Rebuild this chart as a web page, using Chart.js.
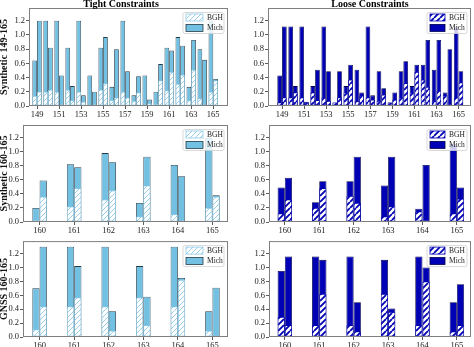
<!DOCTYPE html>
<html>
<head>
<meta charset="utf-8">
<title>BGH vs Mich</title>
<script src="https://cdn.jsdelivr.net/npm/chart.js"></script>
<style>
  body { margin: 0; background: #fff; }
  #wrap { position: relative; width: 474px; height: 347px; overflow: hidden; }
  canvas { position: absolute; }
</style>
</head>
<body>
<div id="wrap">
  <canvas id="tl" width="236" height="118" style="left:0;top:0"></canvas>
  <canvas id="tr" width="238" height="118" style="left:236px;top:0"></canvas>
  <canvas id="ml" width="236" height="117" style="left:0;top:118px"></canvas>
  <canvas id="mr" width="238" height="117" style="left:236px;top:118px"></canvas>
  <canvas id="bl" width="236" height="112" style="left:0;top:235px"></canvas>
  <canvas id="br" width="238" height="112" style="left:236px;top:235px"></canvas>
</div>

<script>
// days on the x axis
var daysAll = [149, 150, 151, 152, 153, 154, 155, 156, 157, 158, 159, 160, 161, 162, 163, 164, 165];
var daysLate = [160, 161, 162, 163, 164, 165];
var xTicksAll = [149, 151, 153, 155, 157, 159, 161, 163, 165];
var xTicksLate = [160, 161, 162, 163, 164, 165];
var yTickValues = [0, 0.2, 0.4, 0.6, 0.8, 1.0, 1.2];
var yMax = 1.38;

// every entry is [first bar, second bar] of that day
var tightSynAllMich = [[0.64, 1.20], [1.20, 0.82], [1.20, 0.43], [0.82, 0.28], [1.20, 0.15], [0.43, 0.20],
  [0.82, 0.97], [0.27, 0.80], [1.20, 0.49], [0.15, 0.42], [0.43, 0.09], [0.20, 0.59], [0.82, 0.78],
  [0.97, 0.85], [0.27, 0.93], [0.80, 0.65], [1.20, 0.38]];
var tightSynAllBgh = [[0.14, 0.20], [0.20, 0.23], [0.20, 0.01], [0.23, 0.08], [0.20, 0.06], [0.01, 0.02],
  [0.23, 0.32], [0.08, 0.12], [0.20, 0.12], [0.07, 0.19], [0.01, 0.04], [0.03, 0.36], [0.22, 0.48],
  [0.31, 0.44], [0.08, 0.51], [0.11, 0.00], [0.20, 0.36]];

var looseSynAllMich = [[0.43, 1.12], [1.12, 0.28], [1.12, 0.06], [0.28, 0.51], [1.12, 0.49], [0.05, 0.49],
  [0.28, 0.58], [0.51, 0.19], [1.12, 0.15], [0.49, 0.25], [0.05, 0.19], [0.49, 0.63], [0.28, 0.58],
  [0.58, 0.93], [0.51, 0.93], [0.19, 0.80], [1.12, 0.49]];
var looseSynAllBgh = [[0.05, 0.12], [0.12, 0.19], [0.12, 0.05], [0.19, 0.08], [0.12, 0.07], [0.05, 0.12],
  [0.19, 0.37], [0.07, 0.15], [0.12, 0.09], [0.07, 0.16], [0.05, 0.09], [0.12, 0.32], [0.19, 0.48],
  [0.37, 0.27], [0.07, 0.22], [0.15, 0.00], [0.12, 0.33]];

var tightSynLateMich = [[0.20, 0.59], [0.82, 0.78], [0.98, 0.85], [0.27, 0.93], [0.81, 0.65], [1.20, 0.38]];
var tightSynLateBgh = [[0.03, 0.36], [0.22, 0.48], [0.32, 0.45], [0.08, 0.52], [0.11, 0.00], [0.20, 0.36]];
var looseSynLateMich = [[0.49, 0.63], [0.28, 0.58], [0.58, 0.93], [0.52, 0.93], [0.19, 0.81], [1.11, 0.49]];
var looseSynLateBgh = [[0.12, 0.32], [0.20, 0.48], [0.37, 0.27], [0.08, 0.22], [0.15, 0.00], [0.12, 0.33]];

var tightGnssMich = [[0.70, 1.30], [1.30, 1.02], [1.30, 0.37], [1.02, 0.58], [1.30, 0.85], [0.37, 0.71]];
var tightGnssBgh = [[0.11, 0.44], [0.44, 0.57], [0.44, 0.09], [0.57, 0.17], [0.44, 0.82], [0.09, 0.01]];
var looseGnssMich = [[0.95, 1.16], [1.16, 1.11], [1.16, 0.50], [1.11, 0.41], [1.16, 1.00], [0.50, 0.76]];
var looseGnssBgh = [[0.29, 0.17], [0.17, 0.62], [0.17, 0.08], [0.62, 0.36], [0.17, 0.80], [0.08, 0.17]];

var serif = "'Liberation Serif', 'DejaVu Serif', serif";

// diagonal hatch like matplotlib '///'
function hatch(line, width, step) {
  var c = document.createElement('canvas');
  c.width = step; c.height = step;
  var g = c.getContext('2d');
  g.fillStyle = '#fff';
  g.fillRect(0, 0, step, step);
  g.strokeStyle = line;
  g.lineWidth = width;
  g.beginPath();
  [-step, 0, step].forEach(function (o) { g.moveTo(o, step); g.lineTo(o + step, 0); });
  g.stroke();
  return g.createPattern(c, 'repeat');
}

var tightStyle = { fill: '#72c1e3', edge: '#263b47', hatch: hatch('#8ecae6', 0.9, 5), hatchEdge: '#8ecae6' };
var looseStyle = { fill: '#0000b4', edge: '#00004a', hatch: hatch('#0000b4', 1.8, 6), hatchEdge: '#0000b4' };

function makeSets(days, mich, bgh, st, cp) {
  var sets = [];
  ['a', 'b'].forEach(function (stack, k) {
    sets.push({ label: 'BGH', stack: stack, order: 1, categoryPercentage: cp, barPercentage: 1,
      data: days.map(function (d, i) { return { x: d, y: bgh[i][k] }; }),
      backgroundColor: st.hatch, borderColor: st.hatchEdge, borderWidth: 0.8, borderSkipped: false });
    sets.push({ label: 'Mich', stack: stack, order: 2, categoryPercentage: cp, barPercentage: 1,
      data: days.map(function (d, i) { return { x: d, y: mich[i][k] }; }),
      backgroundColor: st.fill, borderColor: st.edge, borderWidth: 0.8, borderSkipped: false });
  });
  return sets;
}

// axes frame, legend box and column title
var frameAndLegend = {
  id: 'frameAndLegend',
  afterDraw: function (chart, args, o) {
    var ctx = chart.ctx, a = chart.chartArea;
    ctx.save();
    ctx.strokeStyle = '#7f7f7f';
    ctx.lineWidth = 1;
    ctx.strokeRect(a.left + 0.5, a.top + 0.5, a.right - a.left - 1, a.bottom - a.top - 1);

    var entries = [];
    chart.data.datasets.forEach(function (d) {
      if (!entries.some(function (e) { return e.label === d.label; })) entries.push(d);
    });
    var w = o.boxWidth, h = 21;
    var x = a.right - 4 - w, y = a.top + 4.5;
    ctx.fillStyle = 'rgba(255,255,255,0.8)';
    ctx.strokeStyle = '#cfcfcf';
    ctx.lineWidth = 0.8;
    ctx.beginPath();
    ctx.roundRect(x, y, w, h, 2);
    ctx.fill();
    ctx.stroke();
    ctx.font = '7.5px ' + serif;
    ctx.textBaseline = 'middle';
    entries.forEach(function (d, i) {
      var cy = y + 5 + i * 10.4;
      ctx.fillStyle = d.backgroundColor;
      ctx.fillRect(x + 3, cy - 3.5, o.patch, 7);
      ctx.strokeStyle = d.borderColor;
      ctx.lineWidth = 0.8;
      ctx.strokeRect(x + 3, cy - 3.5, o.patch, 7);
      ctx.fillStyle = '#222';
      ctx.fillText(d.label, x + 7 + o.patch, cy + 0.5);
    });

    if (o.title) {
      ctx.font = 'bold 10px ' + serif;
      ctx.textAlign = 'center';
      ctx.textBaseline = 'alphabetic';
      ctx.fillStyle = '#000';
      ctx.fillText(o.title, o.titleX, 7);
    }
    ctx.restore();
  }
};

function panel(id, o) {
  var tickGrid = { display: true, drawOnChartArea: false, drawTicks: true, tickLength: 3,
    color: '#333', lineWidth: 0.8, offset: false };
  new Chart(document.getElementById(id), {
    type: 'bar',
    data: { datasets: makeSets(o.days, o.mich, o.bgh, o.style, o.cp) },
    options: {
      responsive: false,
      animation: false,
      layout: { padding: { top: o.padTop, right: o.padRight, left: 0, bottom: 0 } },
      plugins: {
        legend: { display: false },
        tooltip: { enabled: false },
        frameAndLegend: { boxWidth: o.boxWidth, patch: o.patch, title: o.title, titleX: o.titleX }
      },
      scales: {
        x: {
          type: 'linear', stacked: true, offset: false, min: o.xMin, max: o.xMax,
          afterBuildTicks: function (s) { s.ticks = o.ticks.map(function (v) { return { value: v }; }); },
          afterFit: function (s) { s.height = o.xH; },
          grid: tickGrid,
          border: { display: false },
          ticks: { font: { family: serif, size: 8.5 }, color: '#222', padding: 1, maxRotation: 0,
            autoSkip: false, callback: function (v) { return String(v); } }
        },
        y: {
          stacked: false, min: 0, max: yMax,
          afterBuildTicks: function (s) { s.ticks = yTickValues.map(function (v) { return { value: v }; }); },
          afterFit: function (s) { s.width = o.yW; },
          grid: tickGrid,
          border: { display: false },
          ticks: { font: { family: serif, size: 8.5 }, color: '#222', padding: 1,
            callback: function (v) { return Number(v).toFixed(1); } },
          title: { display: !!o.rowLabel, text: o.rowLabel || '', color: '#111',
            font: { family: serif, size: 10, weight: 'bold', lineHeight: 0.9 },
            padding: { top: 0, bottom: 0 } }
        }
      }
    },
    plugins: [frameAndLegend]
  });
}

panel('tl', { days: daysAll, ticks: xTicksAll, mich: tightSynAllMich, bgh: tightSynAllBgh, style: tightStyle,
  cp: 0.85, xMin: 148.27, xMax: 166.34, yW: 29, padTop: 8, padRight: 8, xH: 12,
  rowLabel: 'Synthetic 149-165', title: 'Tight Constraints', titleX: 121, boxWidth: 41, patch: 17 });
panel('tr', { days: daysAll, ticks: xTicksAll, mich: looseSynAllMich, bgh: looseSynAllBgh, style: looseStyle,
  cp: 0.85, xMin: 147.73, xMax: 166.13, yW: 32, padTop: 8, padRight: 3, xH: 12,
  title: 'Loose Constraints', titleX: 134, boxWidth: 40, patch: 15 });
panel('ml', { days: daysLate, ticks: xTicksLate, mich: tightSynLateMich, bgh: tightSynLateBgh, style: tightStyle,
  cp: 0.42, xMin: 159.52, xMax: 165.45, yW: 23, padTop: 7, padRight: 8, xH: 13,
  rowLabel: 'Synthetic 160-165', boxWidth: 41, patch: 17 });
panel('mr', { days: daysLate, ticks: xTicksLate, mich: looseSynLateMich, bgh: looseSynLateBgh, style: looseStyle,
  cp: 0.42, xMin: 159.54, xMax: 165.41, yW: 33, padTop: 7, padRight: 3, xH: 13,
  boxWidth: 40, patch: 15 });
panel('bl', { days: daysLate, ticks: xTicksLate, mich: tightGnssMich, bgh: tightGnssBgh, style: tightStyle,
  cp: 0.42, xMin: 159.52, xMax: 165.45, yW: 23, padTop: 5, padRight: 8, xH: 10,
  rowLabel: 'GNSS 160-165', boxWidth: 41, patch: 17 });
panel('br', { days: daysLate, ticks: xTicksLate, mich: looseGnssMich, bgh: looseGnssBgh, style: looseStyle,
  cp: 0.42, xMin: 159.54, xMax: 165.41, yW: 33, padTop: 5, padRight: 3, xH: 10,
  boxWidth: 40, patch: 15 });
</script>
</body>
</html>
